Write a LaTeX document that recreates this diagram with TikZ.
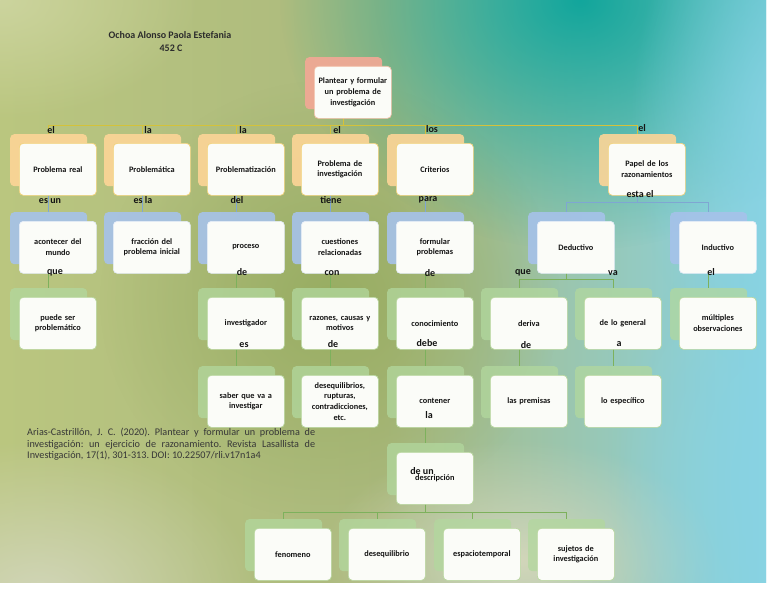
\documentclass[tikz,border=0pt]{standalone}
\usepackage{fontspec}
\setmainfont{Carlito}
\usetikzlibrary{fadings}
\pgfdeclarelayer{bgl}\pgfdeclarelayer{conn}
\pgfsetlayers{bgl,conn,main}
\definecolor{bgL}{HTML}{BAC67F}
\definecolor{bgM}{HTML}{ABB97E}
\definecolor{bgR}{HTML}{88D3E3}
\definecolor{tealC}{HTML}{12A69C}
\definecolor{oliveD}{HTML}{98AD62}
\definecolor{paleC}{HTML}{D2D6BA}
\definecolor{paleY}{HTML}{CCD49E}
\definecolor{orB}{HTML}{FDD597}
\definecolor{saB}{HTML}{F4A896}
\definecolor{blB}{HTML}{A6C2EA}
\definecolor{grB}{HTML}{B2D89E}
\definecolor{frontC}{HTML}{FBFCF8}
\definecolor{yBord}{HTML}{F2D27A}
\definecolor{sBord}{HTML}{F2C0A8}
\definecolor{bBord}{HTML}{E4ECF8}
\definecolor{gBord}{HTML}{B8D69E}
\definecolor{ylLine}{HTML}{D4C23A}
\definecolor{blLine}{HTML}{7FA6D2}
\definecolor{grLine}{HTML}{7DB15C}
\definecolor{txtC}{HTML}{141414}
\tikzfading[name=softblob, inner color=transparent!0, outer color=transparent!100]
\newcommand\pairbox[7]{%
  \node[backbox,#5,anchor=north west] (#1) at (#3,#4) {};
  \node[frontbox,#6,anchor=north west] (#2) at ([xshift=9pt,yshift=-9pt]#1.north west) {#7};}
\begin{document}
\hyphenpenalty=10000 \exhyphenpenalty=10000
\begin{tikzpicture}[x=1pt,y=-1pt,
  backbox/.style={minimum width=77pt,minimum height=52pt,inner sep=0pt,rounded corners=4pt,draw=none},
  frontbox/.style={minimum width=77pt,minimum height=52pt,inner sep=1pt,rounded corners=4pt,fill=frontC,
    line width=0.7pt,text width=75pt,align=center,font=\fontsize{8.3}{10.6}\selectfont\bfseries,text=txtC},
  orb/.style={fill=orB,fill opacity=0.9},
  sab/.style={fill=saB,fill opacity=0.9},
  blb/.style={fill=blB,fill opacity=0.9},
  grb/.style={fill=grB,fill opacity=0.75},
  yf/.style={draw=yBord},
  sf/.style={draw=sBord},
  bf/.style={draw=bBord},
  gf/.style={draw=gBord},
  yl/.style={draw=ylLine,line width=1pt},
  bl/.style={draw=blLine,line width=1pt},
  gl/.style={draw=grLine,line width=1pt},
  lab/.style={font=\fontsize{10}{12}\selectfont\bfseries,text=txtC,inner sep=0pt}]
\useasboundingbox (0,0) rectangle (768,594);
\begin{pgfonlayer}{bgl}
  \fill[white] (0,0) rectangle (768,594);
  \shade[left color=bgL,right color=bgR,middle color=bgM] (0,1) rectangle (766,582);
  \begin{scope}
    \clip (0,1) rectangle (766,582);
    \fill[oliveD,path fading=softblob] (330,300) ellipse (230 and 220);
    \fill[paleC,path fading=softblob] (40,600) ellipse (220 and 160);
    \fill[paleC,path fading=softblob] (520,560) ellipse (200 and 120);
    \fill[paleY,path fading=softblob] (0,0) ellipse (200 and 120);
    \fill[tealC,path fading=softblob] (580,0) ellipse (300 and 250);
    \fill[bgR,path fading=softblob] (790,120) ellipse (160 and 260);
    \fill[bgR,path fading=softblob] (790,480) ellipse (180 and 260);
  \end{scope}
\end{pgfonlayer}

% title
\node[font=\fontsize{10}{12}\selectfont\bfseries,text=txtC!90,inner sep=0pt] (title) at (170,35) {Ochoa Alonso Paola Estefania};
\node[font=\fontsize{10}{12}\selectfont\bfseries,text=txtC!90,inner sep=0pt] (group) at (171,48) {452 C};

% boxes
\pairbox{tb}{tf}{305}{57}{sab}{sf}{Plantear y formular\\un problema de\\investigación}
\pairbox{a1b}{a1f}{10}{134}{orb}{yf}{Problema real}
\pairbox{a2b}{a2f}{104}{134}{orb}{yf}{Problemática}
\pairbox{a3b}{a3f}{198}{134}{orb}{yf}{Problematización}
\pairbox{a4b}{a4f}{292}{134}{orb}{yf}{Problema de\\investigación}
\pairbox{a5b}{a5f}{387}{134}{orb}{yf}{Criterios}
\pairbox{a6b}{a6f}{599}{134}{orb}{yf}{Papel de los\\razonamientos}

\pairbox{b1b}{b1f}{10}{212}{blb}{bf}{acontecer del\\mundo}
\pairbox{b2b}{b2f}{104}{212}{blb}{bf}{fracción del\\problema inicial}
\pairbox{b3b}{b3f}{198}{212}{blb}{bf}{proceso}
\pairbox{b4b}{b4f}{292}{212}{blb}{bf}{cuestiones\\relacionadas}
\pairbox{b5b}{b5f}{387}{212}{blb}{bf}{formular\\problemas}
\pairbox{b6b}{b6f}{528}{212}{blb}{bf}{Deductivo}
\pairbox{b7b}{b7f}{670}{212}{blb}{bf}{Inductivo}

\pairbox{c1b}{c1f}{10}{288}{grb}{gf}{puede ser\\problemático}
\pairbox{c3b}{c3f}{198}{288}{grb}{gf}{investigador}
\pairbox{c4b}{c4f}{292}{288}{grb}{gf}{razones, causas y\\motivos}
\pairbox{c5b}{c5f}{387}{288}{grb}{gf}{conocimiento}
\pairbox{c6b}{c6f}{481}{288}{grb}{gf}{deriva}
\pairbox{c7b}{c7f}{575}{288}{grb}{gf}{de lo general}
\pairbox{c8b}{c8f}{670}{288}{grb}{gf}{múltiples\\observaciones}

\pairbox{d3b}{d3f}{198}{366}{grb}{gf}{saber que va a\\investigar}
\pairbox{d4b}{d4f}{292}{366}{grb}{gf}{desequilibrios,\\rupturas,\\contradicciones,\\etc.}
\pairbox{d5b}{d5f}{387}{366}{grb}{gf}{contener}
\pairbox{d6b}{d6f}{481}{366}{grb}{gf}{las premisas}
\pairbox{d7b}{d7f}{575}{366}{grb}{gf}{lo específico}

\pairbox{e5b}{e5f}{387}{443}{grb}{gf}{\raisebox{-2pt}{descripción}}

\pairbox{f1b}{f1f}{245}{519}{grb}{gf}{fenomeno}
\pairbox{f2b}{f2f}{339}{519}{grb}{gf}{desequilibrio}
\pairbox{f3b}{f3f}{434}{519}{grb}{gf}{espaciotemporal}
\pairbox{f4b}{f4f}{528}{519}{grb}{gf}{sujetos de\\investigación}

% connectors
\coordinate (bus1) at (0,125);
\coordinate (bus2) at (0,202);
\coordinate (bus3) at (0,279);
\coordinate (bus4) at (0,512);
\begin{pgfonlayer}{conn}
  \draw[yl] (tb.south) -- (tb.south |- bus1);
  \draw[yl] (a1b.north) -- (a1b.north |- bus1) -- (a6b.north |- bus1) -- (a6b.north);
  \draw[yl] (a2b.north) -- (a2b.north |- bus1);
  \draw[yl] (a3b.north) -- (a3b.north |- bus1);
  \draw[yl] (a4b.north) -- (a4b.north |- bus1);
  \draw[yl] (a5b.north) -- (a5b.north |- bus1);

  \draw[bl] (a1b.south) -- (b1b.north);
  \draw[bl] (a2b.south) -- (b2b.north);
  \draw[bl] (a3b.south) -- (b3b.north);
  \draw[bl] (a4b.south) -- (b4b.north);
  \draw[bl] (a5b.south) -- (b5b.north);
  \draw[bl] (a6b.south) -- (a6b.south |- bus2);
  \draw[bl] (b6b.north) -- (b6b.north |- bus2) -- (b7b.north |- bus2) -- (b7b.north);

  \draw[gl] (b1b.south) -- (c1b.north);
  \draw[gl] (b3b.south) -- (c3b.north);
  \draw[gl] (b4b.south) -- (c4b.north);
  \draw[gl] (b5b.south) -- (c5b.north);
  \draw[gl] (b6b.south) -- (b6b.south |- bus3);
  \draw[gl] (c6b.north) -- (c6b.north |- bus3) -- (c7b.north |- bus3) -- (c7b.north);
  \draw[gl] (b7b.south) -- (c8b.north);

  \draw[gl] (c3b.south) -- (d3b.north);
  \draw[gl] (c4b.south) -- (d4b.north);
  \draw[gl] (c5b.south) -- (d5b.north);
  \draw[gl] (c6b.south) -- (d6b.north);
  \draw[gl] (c7b.south) -- (d7b.north);

  \draw[gl] (d5b.south) -- (e5b.north);

  \draw[gl] (e5b.south) -- (e5b.south |- bus4);
  \draw[gl] (f1b.north) -- (f1b.north |- bus4) -- (f4b.north |- bus4) -- (f4b.north);
  \draw[gl] (f2b.north) -- (f2b.north |- bus4);
  \draw[gl] (f3b.north) -- (f3b.north |- bus4);
\end{pgfonlayer}

% labels
\node[lab] (l01) at (51,130) {el};
\node[lab] (l02) at (148,130) {la};
\node[lab] (l03) at (243,130) {la};
\node[lab] (l04) at (337,130) {el};
\node[lab] (l05) at (432,129) {los};
\node[lab] (l06) at (642,128) {el};

\node[lab] (l11) at (50,201) {es un};
\node[lab] (l12) at (143,200) {es la};
\node[lab] (l13) at (237,200) {del};
\node[lab] (l14) at (331,200) {tiene};
\node[lab] (l15) at (428,200) {para};
\node[lab] (l16) at (640,194) {esta el};

\node[lab] (l21) at (55,273) {que};
\node[lab] (l23) at (242,272) {de};
\node[lab] (l24) at (332,273) {con};
\node[lab] (l25) at (430,273) {de};
\node[lab] (l26) at (523,273) {que};
\node[lab] (l27) at (613,273) {va};
\node[lab] (l28) at (711,272) {el};

\node[lab] (l33) at (244,345) {es};
\node[lab] (l34) at (333,344) {de};
\node[lab] (l35) at (427,343) {debe};
\node[lab] (l36) at (526,345) {de};
\node[lab] (l37) at (619,344) {a};

\node[lab] (l45) at (429,415) {la};
\node[lab] (l55) at (422,471) {de un};

% reference
\node[anchor=north west,inner sep=0pt,align=left,text=txtC!85,font=\frenchspacing\fontsize{10.2}{11.6}\selectfont] (ref) at (27,428)
  {\makebox[288pt][s]{Arias-Castrillón, J. C. (2020). Plantear y formular un problema de}\\
   \makebox[288pt][s]{investigación: un ejercicio de razonamiento. Revista Lasallista de}\\
   Investigación, 17(1), 301-313. DOI: 10.22507/rli.v17n1a4};
\end{tikzpicture}
\end{document}
